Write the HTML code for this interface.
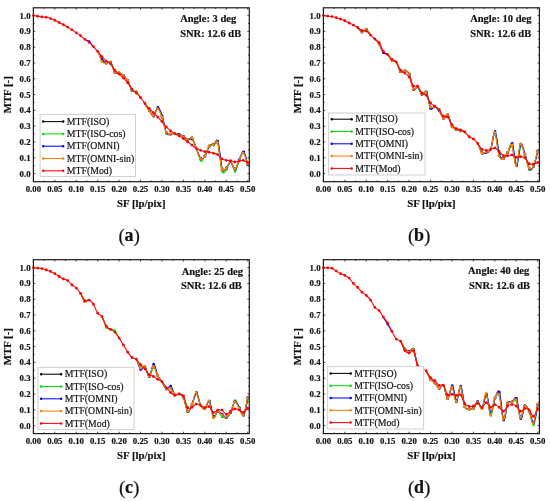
<!DOCTYPE html>
<html><head><meta charset="utf-8"><title>MTF</title>
<style>
html,body{margin:0;padding:0;background:#fff;}
svg{display:block;}
text{font-family:"Liberation Serif","Times New Roman",serif;fill:#111;stroke:#111;stroke-width:0.18px;}
.tk{font-size:8.8px;font-weight:bold;}
.at{font-size:10.8px;font-weight:bold;}
.an{font-size:10.5px;font-weight:bold;}
.lg{font-size:9.8px;}
.cp{font-size:18px;}
.cb{font-weight:bold;}
.pr{font-size:19.2px;letter-spacing:-0.4px;}
</style></head><body>
<svg width="550" height="501" viewBox="0 0 550 501">
<rect width="550" height="501" fill="#fff"/>
<g><rect x="33.4" y="7.8" width="215.9" height="173.9" fill="none" stroke="#1a1a1a" stroke-width="1.2"/>
<path d="M97.69,51.14C99.12,53.35 100.55,58.52 101.98,60.52C103.4,62.51 104.83,62.86 106.26,63.11C107.69,63.37 109.12,60.52 110.55,62.06C111.98,63.59 113.41,70.52 114.83,72.32C116.26,74.12 117.69,72.29 119.12,72.87C120.55,73.44 121.98,74.52 123.41,75.77C124.83,77.02 126.26,77.94 127.69,80.35C129.12,82.76 130.55,88.29 131.98,90.23C133.41,92.17 134.84,90.75 136.26,92C137.69,93.25 139.12,95.76 140.55,97.73M144.84,103.85C146.26,105.92 147.69,108.11 149.12,110.15C150.55,112.19 151.98,116.35 153.41,116.1C154.84,115.85 156.27,108.57 157.69,108.65C159.12,108.73 160.55,112.56 161.98,116.56C163.41,120.55 164.84,129.7 166.27,132.63C167.69,135.57 169.12,134.05 170.55,134.16C171.98,134.26 173.41,133.17 174.84,133.27C176.27,133.38 177.7,134.25 179.12,134.77C180.55,135.3 181.98,135.66 183.41,136.45C184.84,137.24 186.27,139.28 187.7,139.51C189.12,139.73 190.55,136.35 191.98,137.81C193.41,139.27 194.84,144.74 196.27,148.28C197.7,151.81 199.13,157.75 200.55,159.01C201.98,160.27 203.41,157.99 204.84,155.84C206.27,153.68 207.7,148.03 209.13,146.09C210.55,144.15 211.98,144.79 213.41,144.21C214.84,143.63 216.27,138.33 217.7,142.61C219.13,146.88 220.56,165.55 221.98,169.86C223.41,174.18 224.84,169.85 226.27,168.49C227.7,167.13 229.13,161.64 230.56,161.71C231.98,161.77 233.41,169.08 234.84,168.89C236.27,168.69 237.7,163.28 239.13,160.53C240.56,157.78 241.99,151.78 243.41,152.4C244.84,153.01 246.99,162.24 247.7,164.21" fill="none" stroke="#000000" stroke-width="0.9" stroke-linejoin="round"/>
<path d="M101.98,60.52h0M106.26,63.11h0M110.55,62.06h0M114.83,72.32h0M119.12,72.87h0M123.41,75.77h0M127.69,80.35h0M131.98,90.23h0M136.26,92h0M149.12,110.15h0M153.41,116.1h0M157.69,108.65h0M161.98,116.56h0M166.27,132.63h0M170.55,134.16h0M179.12,134.77h0M183.41,136.45h0M187.7,139.51h0M191.98,137.81h0M200.55,159.01h0M204.84,155.84h0M209.13,146.09h0M213.41,144.21h0M217.7,142.61h0M221.98,169.86h0M226.27,168.49h0M230.56,161.71h0M234.84,168.89h0M243.41,152.4h0M247.7,164.21h0" stroke="#000000" stroke-width="2.6" stroke-linecap="round" fill="none"/>
<path d="M97.7,51.14C99.16,53.5 100.72,59.24 102.16,61.29C103.6,63.35 104.94,63.33 106.35,63.47C107.76,63.6 109.19,60.67 110.62,62.1C112.06,63.54 113.52,70.21 114.95,72.08C116.37,73.95 117.74,72.68 119.17,73.32C120.6,73.96 122.08,74.74 123.52,75.93C124.96,77.12 126.39,78 127.8,80.46C129.22,82.91 130.61,88.76 132.03,90.66C133.45,92.57 134.9,90.72 136.32,91.89C137.74,93.07 139.12,95.77 140.55,97.73M144.87,103.7C146.32,105.78 147.76,108.17 149.21,110.2C150.66,112.22 152.09,116.15 153.56,115.86C155.02,115.57 156.55,108.09 157.99,108.46C159.44,108.83 160.79,114.01 162.21,118.09C163.63,122.17 165.11,130.25 166.53,132.93C167.94,135.62 169.31,134.15 170.7,134.2C172.09,134.26 173.45,133.18 174.86,133.27C176.27,133.36 177.74,134.14 179.18,134.74C180.62,135.34 182.07,136.1 183.51,136.86C184.95,137.62 186.35,138.81 187.81,139.29C189.27,139.76 190.87,138.21 192.28,139.71C193.69,141.21 194.84,144.8 196.27,148.28C197.7,151.76 199.39,159.34 200.85,160.58C202.32,161.83 203.64,158.25 205.06,155.75C206.48,153.26 207.95,147.32 209.39,145.62C210.83,143.91 212.28,145.84 213.71,145.53C215.15,145.21 216.57,139.43 218,143.73C219.43,148.03 220.86,167.05 222.28,171.34C223.71,175.63 225.19,171.14 226.57,169.49C227.95,167.83 229.16,161.11 230.59,161.42C232.02,161.73 233.71,171.44 235.14,171.35C236.57,171.26 237.73,163.94 239.16,160.86C240.59,157.78 242.28,152.21 243.71,152.86C245.15,153.51 247.11,162.78 247.79,164.76" fill="none" stroke="#00dd00" stroke-width="1.2" stroke-linejoin="round"/>
<path d="M102.16,61.29h0M106.35,63.47h0M110.62,62.1h0M114.95,72.08h0M123.52,75.93h0M127.8,80.46h0M132.03,90.66h0M136.32,91.89h0M149.21,110.2h0M153.56,115.86h0M157.99,108.46h0M162.21,118.09h0M166.53,132.93h0M170.7,134.2h0M179.18,134.74h0M183.51,136.86h0M187.81,139.29h0M192.28,139.71h0M200.85,160.58h0M205.06,155.75h0M209.39,145.62h0M213.71,145.53h0M218,143.73h0M222.28,171.34h0M226.57,169.49h0M235.14,171.35h0M243.71,152.86h0M247.79,164.76h0" stroke="#00dd00" stroke-width="2.6" stroke-linecap="round" fill="none"/>
<path d="M84.83,39.29C86.27,40.27 87.72,40.24 89.15,41.5C90.58,42.75 92,45.23 93.43,46.84M97.7,51.14C99.15,53.27 100.69,57.64 102.13,59.62C103.57,61.6 104.92,62.55 106.34,63.01C107.75,63.46 109.18,60.78 110.61,62.36C112.04,63.95 113.5,70.68 114.93,72.53C116.35,74.39 117.74,73.01 119.16,73.48C120.59,73.96 122.06,74.21 123.5,75.39C124.94,76.56 126.37,78.05 127.79,80.55C129.21,83.04 130.6,88.38 132.02,90.35C133.44,92.32 134.89,91.12 136.31,92.35M144.87,104.11C146.31,106.2 147.75,108.29 149.2,110.28C150.64,112.26 152.08,116.53 153.53,116.02C154.99,115.51 156.5,107.28 157.94,107.23C159.38,107.17 160.75,111.38 162.17,115.7C163.6,120.02 165.07,130.08 166.48,133.13C167.9,136.19 169.28,134.01 170.68,134.03C172.07,134.06 173.44,133.21 174.86,133.27C176.27,133.33 177.73,133.88 179.17,134.4C180.61,134.92 182.05,135.56 183.49,136.41C184.93,137.26 186.33,139.09 187.79,139.48C189.25,139.87 190.82,137.29 192.23,138.75C193.65,140.22 194.84,145.01 196.27,148.28C197.7,151.54 199.35,157.02 200.8,158.33C202.26,159.65 203.6,158.13 205.02,156.16C206.44,154.19 207.9,148.49 209.34,146.51C210.78,144.53 212.23,145.14 213.66,144.29C215.1,143.44 216.52,137.32 217.95,141.42C219.38,145.51 220.81,164.47 222.23,168.85C223.66,173.23 225.13,168.82 226.52,167.67C227.91,166.51 229.16,161.63 230.59,161.92C232.02,162.2 233.66,169.74 235.09,169.41C236.52,169.07 237.72,162.86 239.15,159.92C240.58,156.98 242.23,150.93 243.66,151.76C245.1,152.59 247.09,162.71 247.78,164.9" fill="none" stroke="#0000ff" stroke-width="1.2" stroke-linejoin="round"/>
<path d="M89.15,41.5h0M102.13,59.62h0M106.34,63.01h0M110.61,62.36h0M114.93,72.53h0M123.5,75.39h0M127.79,80.55h0M132.02,90.35h0M149.2,110.28h0M153.53,116.02h0M157.94,107.23h0M162.17,115.7h0M166.48,133.13h0M170.68,134.03h0M179.17,134.4h0M183.49,136.41h0M187.79,139.48h0M192.23,138.75h0M200.8,158.33h0M205.02,156.16h0M209.34,146.51h0M213.66,144.29h0M217.95,141.42h0M222.23,168.85h0M226.52,167.67h0M230.59,161.92h0M235.09,169.41h0M239.15,159.92h0M243.66,151.76h0M247.78,164.9h0" stroke="#0000ff" stroke-width="2.6" stroke-linecap="round" fill="none"/>
<path d="M97.68,51.14C99.1,53.52 100.46,59.47 101.88,61.48C103.3,63.5 104.78,63.06 106.22,63.21C107.66,63.36 109.08,60.87 110.51,62.41C111.94,63.96 113.35,70.78 114.78,72.49C116.21,74.2 117.67,72.14 119.09,72.66C120.52,73.19 121.93,74.34 123.35,75.63C124.77,76.92 126.2,77.96 127.64,80.38C129.07,82.81 130.52,88.27 131.95,90.19C133.39,92.11 134.8,90.63 136.24,91.89C137.67,93.15 139.12,95.7 140.55,97.73M144.82,104.08C146.24,106.17 147.66,108.31 149.08,110.24C150.5,112.18 151.92,115.92 153.33,115.68C154.74,115.44 156.12,108.61 157.54,108.79C158.97,108.98 160.43,112.86 161.86,116.81C163.3,120.75 164.7,129.63 166.13,132.47C167.57,135.31 169.03,133.7 170.48,133.84C171.93,133.97 173.39,133.07 174.83,133.27C176.26,133.47 177.68,134.49 179.1,135.04C180.52,135.59 181.94,135.83 183.36,136.58C184.78,137.32 186.23,139.34 187.64,139.52C189.05,139.71 190.39,136.26 191.83,137.72C193.27,139.17 194.84,144.79 196.27,148.28C197.7,151.77 198.99,157.32 200.4,158.65C201.81,159.97 203.3,158.3 204.73,156.22C206.16,154.14 207.57,148.08 208.99,146.18C210.42,144.28 211.84,145.49 213.26,144.84C214.69,144.18 216.12,138.24 217.55,142.26C218.98,146.29 220.41,164.64 221.83,168.97C223.26,173.31 224.67,169.54 226.12,168.27C227.57,167 229.11,161.16 230.54,161.35C231.97,161.54 233.26,169.58 234.69,169.4C236.12,169.21 237.68,162.97 239.11,160.23C240.54,157.48 241.84,152.29 243.26,152.94C244.69,153.6 246.92,162.29 247.66,164.16" fill="none" stroke="#ff8000" stroke-width="1.2" stroke-linejoin="round"/>
<path d="M101.88,61.48h0M106.22,63.21h0M110.51,62.41h0M114.78,72.49h0M119.09,72.66h0M123.35,75.63h0M127.64,80.38h0M131.95,90.19h0M136.24,91.89h0M149.08,110.24h0M153.33,115.68h0M157.54,108.79h0M161.86,116.81h0M166.13,132.47h0M170.48,133.84h0M179.1,135.04h0M183.36,136.58h0M187.64,139.52h0M191.83,137.72h0M200.4,158.65h0M204.73,156.22h0M208.99,146.18h0M213.26,144.84h0M217.55,142.26h0M221.83,168.97h0M226.12,168.27h0M234.69,169.4h0M243.26,152.94h0M247.66,164.16h0" stroke="#ff8000" stroke-width="2.6" stroke-linecap="round" fill="none"/>
<path d="M33.4,15.6C34.11,15.71 36.26,16.02 37.69,16.23C39.11,16.44 40.54,16.68 41.97,16.86C43.4,17.05 44.83,17.05 46.26,17.34C47.69,17.63 49.12,18.1 50.54,18.6C51.97,19.1 53.4,19.68 54.83,20.34C56.26,21 57.69,21.81 59.12,22.55C60.54,23.29 61.97,24 63.4,24.76C64.83,25.52 66.26,26.29 67.69,27.13C69.12,27.97 70.55,28.87 71.97,29.82C73.4,30.76 74.83,31.84 76.26,32.82C77.69,33.79 79.12,34.58 80.55,35.66C81.97,36.74 83.4,38.16 84.83,39.29C86.26,40.42 87.69,41.24 89.12,42.45C90.55,43.66 91.98,45.06 93.4,46.56C94.83,48.06 96.26,49.77 97.69,51.45C99.12,53.14 100.55,55.06 101.98,56.67C103.4,58.27 104.83,59.9 106.26,61.09C107.69,62.27 109.12,62.27 110.55,63.77C111.98,65.28 113.41,68.38 114.83,70.09C116.26,71.8 117.69,72.73 119.12,74.04C120.55,75.36 121.98,76.54 123.41,77.99C124.83,79.44 126.26,80.89 127.69,82.73C129.12,84.57 130.55,87.34 131.98,89.05C133.41,90.76 134.84,91.55 136.26,93C137.69,94.44 139.12,96.02 140.55,97.73C141.98,99.45 143.41,101.47 144.84,103.26C146.26,105.05 147.69,106.9 149.12,108.47C150.55,110.05 151.98,111.32 153.41,112.74C154.84,114.16 156.27,115.53 157.69,117C159.12,118.48 160.55,119.93 161.98,121.58C163.41,123.24 164.84,125.4 166.27,126.95C167.69,128.51 169.12,129.77 170.55,130.9C171.98,132.04 173.41,132.9 174.84,133.75C176.27,134.59 177.7,135.17 179.12,135.96C180.55,136.75 181.98,137.48 183.41,138.49C184.84,139.49 186.27,140.85 187.7,141.96C189.12,143.07 190.55,144.07 191.98,145.12C193.41,146.17 194.84,147.41 196.27,148.28C197.7,149.15 199.13,149.78 200.55,150.33C201.98,150.88 203.41,151.28 204.84,151.59C206.27,151.91 207.7,151.94 209.13,152.23C210.55,152.52 211.98,152.94 213.41,153.33C214.84,153.73 216.27,153.67 217.7,154.6C219.13,155.52 220.56,157.91 221.98,158.86C223.41,159.81 224.84,159.97 226.27,160.28C227.7,160.6 229.13,160.47 230.56,160.76C231.98,161.05 233.41,161.97 234.84,162.02C236.27,162.07 237.7,161.34 239.13,161.07C240.56,160.81 241.99,160.2 243.41,160.44C244.84,160.68 246.99,162.15 247.7,162.49" fill="none" stroke="#ff0000" stroke-width="1.05" stroke-linejoin="round"/>
<path d="M33.4,15.6h0M37.69,16.23h0M41.97,16.86h0M46.26,17.34h0M50.54,18.6h0M54.83,20.34h0M59.12,22.55h0M63.4,24.76h0M67.69,27.13h0M71.97,29.82h0M76.26,32.82h0M80.55,35.66h0M84.83,39.29h0M89.12,42.45h0M93.4,46.56h0M97.69,51.45h0M101.98,56.67h0M106.26,61.09h0M110.55,63.77h0M114.83,70.09h0M119.12,74.04h0M123.41,77.99h0M127.69,82.73h0M131.98,89.05h0M136.26,93h0M140.55,97.73h0M144.84,103.26h0M149.12,108.47h0M153.41,112.74h0M157.69,117h0M161.98,121.58h0M166.27,126.95h0M170.55,130.9h0M174.84,133.75h0M179.12,135.96h0M183.41,138.49h0M187.7,141.96h0M191.98,145.12h0M196.27,148.28h0M200.55,150.33h0M204.84,151.59h0M209.13,152.23h0M213.41,153.33h0M217.7,154.6h0M221.98,158.86h0M226.27,160.28h0M230.56,160.76h0M234.84,162.02h0M239.13,161.07h0M243.41,160.44h0M247.7,162.49h0" stroke="#ff0000" stroke-width="2.8" stroke-linecap="round" fill="none"/>
<path d="M33.4,181.7v-1.9M33.4,7.8v1.9M44.12,181.7v-1.2M44.12,7.8v1.2M54.83,181.7v-1.9M54.83,7.8v1.9M65.55,181.7v-1.2M65.55,7.8v1.2M76.26,181.7v-1.9M76.26,7.8v1.9M86.97,181.7v-1.2M86.97,7.8v1.2M97.69,181.7v-1.9M97.69,7.8v1.9M108.41,181.7v-1.2M108.41,7.8v1.2M119.12,181.7v-1.9M119.12,7.8v1.9M129.84,181.7v-1.2M129.84,7.8v1.2M140.55,181.7v-1.9M140.55,7.8v1.9M151.27,181.7v-1.2M151.27,7.8v1.2M161.98,181.7v-1.9M161.98,7.8v1.9M172.7,181.7v-1.2M172.7,7.8v1.2M183.41,181.7v-1.9M183.41,7.8v1.9M194.13,181.7v-1.2M194.13,7.8v1.2M204.84,181.7v-1.9M204.84,7.8v1.9M215.56,181.7v-1.2M215.56,7.8v1.2M226.27,181.7v-1.9M226.27,7.8v1.9M236.99,181.7v-1.2M236.99,7.8v1.2M247.7,181.7v-1.9M247.7,7.8v1.9M33.4,173.55h1.9M249.3,173.55h-1.9M33.4,165.65h1.2M249.3,165.65h-1.2M33.4,157.76h1.9M249.3,157.76h-1.9M33.4,149.86h1.2M249.3,149.86h-1.2M33.4,141.96h1.9M249.3,141.96h-1.9M33.4,134.06h1.2M249.3,134.06h-1.2M33.4,126.17h1.9M249.3,126.17h-1.9M33.4,118.27h1.2M249.3,118.27h-1.2M33.4,110.37h1.9M249.3,110.37h-1.9M33.4,102.47h1.2M249.3,102.47h-1.2M33.4,94.58h1.9M249.3,94.58h-1.9M33.4,86.68h1.2M249.3,86.68h-1.2M33.4,78.78h1.9M249.3,78.78h-1.9M33.4,70.88h1.2M249.3,70.88h-1.2M33.4,62.99h1.9M249.3,62.99h-1.9M33.4,55.09h1.2M249.3,55.09h-1.2M33.4,47.19h1.9M249.3,47.19h-1.9M33.4,39.29h1.2M249.3,39.29h-1.2M33.4,31.4h1.9M249.3,31.4h-1.9M33.4,23.5h1.2M249.3,23.5h-1.2M33.4,15.6h1.9M249.3,15.6h-1.9" stroke="#1a1a1a" stroke-width="0.8" fill="none"/>
<text class="tk" x="33.4" y="191.9" text-anchor="middle">0.00</text>
<text class="tk" x="54.83" y="191.9" text-anchor="middle">0.05</text>
<text class="tk" x="76.26" y="191.9" text-anchor="middle">0.10</text>
<text class="tk" x="97.69" y="191.9" text-anchor="middle">0.15</text>
<text class="tk" x="119.12" y="191.9" text-anchor="middle">0.20</text>
<text class="tk" x="140.55" y="191.9" text-anchor="middle">0.25</text>
<text class="tk" x="161.98" y="191.9" text-anchor="middle">0.30</text>
<text class="tk" x="183.41" y="191.9" text-anchor="middle">0.35</text>
<text class="tk" x="204.84" y="191.9" text-anchor="middle">0.40</text>
<text class="tk" x="226.27" y="191.9" text-anchor="middle">0.45</text>
<text class="tk" x="247.7" y="191.9" text-anchor="middle">0.50</text>
<text class="tk" x="30.6" y="176.55" text-anchor="end">0.0</text>
<text class="tk" x="30.6" y="160.76" text-anchor="end">0.1</text>
<text class="tk" x="30.6" y="144.96" text-anchor="end">0.2</text>
<text class="tk" x="30.6" y="129.17" text-anchor="end">0.3</text>
<text class="tk" x="30.6" y="113.37" text-anchor="end">0.4</text>
<text class="tk" x="30.6" y="97.58" text-anchor="end">0.5</text>
<text class="tk" x="30.6" y="81.78" text-anchor="end">0.6</text>
<text class="tk" x="30.6" y="65.99" text-anchor="end">0.7</text>
<text class="tk" x="30.6" y="50.19" text-anchor="end">0.8</text>
<text class="tk" x="30.6" y="34.4" text-anchor="end">0.9</text>
<text class="tk" x="30.6" y="18.6" text-anchor="end">1.0</text>
<text class="at" x="141.35" y="207.4" text-anchor="middle">SF [lp/pix]</text>
<text class="at" transform="translate(11.1,94.75) rotate(-90)" text-anchor="middle">MTF [-]</text>
<text class="an" x="180.2" y="22">Angle: 3 deg</text>
<text class="an" x="180.2" y="36.9">SNR: 12.6 dB</text>
<rect x="40.1" y="114.4" width="95.4" height="62.2" fill="#fff" stroke="#d0d0d0" stroke-width="1"/>
<path d="M43.2,121.6h20" stroke="#000000" stroke-width="1.05"/>
<path d="M43.2,121.6h0M63.2,121.6h0" stroke="#000000" stroke-width="2.5" stroke-linecap="round"/>
<text class="lg" x="66.8" y="124.8">MTF(ISO)</text>
<path d="M43.2,133.9h20" stroke="#00dd00" stroke-width="1.05"/>
<path d="M43.2,133.9h0M63.2,133.9h0" stroke="#00dd00" stroke-width="2.5" stroke-linecap="round"/>
<text class="lg" x="66.8" y="137.1">MTF(ISO-cos)</text>
<path d="M43.2,146.2h20" stroke="#0000ff" stroke-width="1.05"/>
<path d="M43.2,146.2h0M63.2,146.2h0" stroke="#0000ff" stroke-width="2.5" stroke-linecap="round"/>
<text class="lg" x="66.8" y="149.4">MTF(OMNI)</text>
<path d="M43.2,158.5h20" stroke="#ff8000" stroke-width="1.05"/>
<path d="M43.2,158.5h0M63.2,158.5h0" stroke="#ff8000" stroke-width="2.5" stroke-linecap="round"/>
<text class="lg" x="66.8" y="161.7">MTF(OMNI-sin)</text>
<path d="M43.2,170.8h20" stroke="#ff0000" stroke-width="1.05"/>
<path d="M43.2,170.8h0M63.2,170.8h0" stroke="#ff0000" stroke-width="2.5" stroke-linecap="round"/>
<text class="lg" x="66.8" y="174">MTF(Mod)</text>
<text class="cp" x="129" y="240.9" text-anchor="middle"><tspan class="pr" dy="1.1">(</tspan><tspan class="cb" dy="-1.1">a</tspan><tspan class="pr" dy="1.1">)</tspan></text></g>
<g><rect x="323.4" y="7.8" width="216" height="173.9" fill="none" stroke="#1a1a1a" stroke-width="1.2"/>
<path d="M357.69,27.45C359.12,28.56 360.55,31.39 361.97,31.73C363.4,32.07 364.83,28.92 366.26,29.47C367.69,30.02 369.12,33.44 370.55,35.03M374.83,38.98C376.26,40.39 377.69,41.31 379.12,43.53C380.55,45.74 381.98,50.41 383.4,52.26M387.69,54.61C389.12,56.01 390.55,59.38 391.98,60.61C393.4,61.85 394.83,60.2 396.26,62.04C397.69,63.87 399.12,70.14 400.55,71.63C401.98,73.13 403.41,70.62 404.83,71.02C406.26,71.42 407.69,71.04 409.12,74.04C410.55,77.03 411.98,86.85 413.41,88.99C414.83,91.13 416.26,85.96 417.69,86.86C419.12,87.77 420.55,93.56 421.98,94.44C423.41,95.32 424.84,89.89 426.26,92.13C427.69,94.38 429.12,105.45 430.55,107.89C431.98,110.32 433.41,106.32 434.84,106.74M439.12,110.39C440.55,112.3 441.98,117.47 443.41,118.18C444.84,118.9 446.27,113.25 447.69,114.68C449.12,116.11 450.55,124.26 451.98,126.74C453.41,129.23 454.84,128.96 456.27,129.59C457.69,130.22 459.12,130.12 460.55,130.52M477.7,143.38C479.12,145.74 480.55,151.65 481.98,153.12C483.41,154.6 484.84,152.76 486.27,152.22C487.7,151.68 489.13,153.04 490.55,149.86C491.98,146.67 493.41,132.18 494.84,133.1C496.27,134.01 497.7,151.08 499.13,155.35C500.55,159.62 501.98,159.26 503.41,158.74C504.84,158.22 506.27,154.34 507.7,152.21C509.13,150.07 510.56,143.66 511.98,145.92C513.41,148.18 514.84,166 516.27,165.77C517.7,165.54 519.13,146.44 520.56,144.53C521.98,142.62 523.41,150.38 524.84,154.31C526.27,158.23 527.7,166.07 529.13,168.06C530.56,170.06 531.99,169.16 533.41,166.28C534.84,163.4 536.99,153.37 537.7,150.79" fill="none" stroke="#000000" stroke-width="0.9" stroke-linejoin="round"/>
<path d="M361.97,31.73h0M366.26,29.47h0M379.12,43.53h0M391.98,60.61h0M400.55,71.63h0M404.83,71.02h0M409.12,74.04h0M413.41,88.99h0M421.98,94.44h0M426.26,92.13h0M430.55,107.89h0M443.41,118.18h0M447.69,114.68h0M451.98,126.74h0M456.27,129.59h0M481.98,153.12h0M486.27,152.22h0M494.84,133.1h0M499.13,155.35h0M503.41,158.74h0M507.7,152.21h0M511.98,145.92h0M516.27,165.77h0M520.56,144.53h0M524.84,154.31h0M529.13,168.06h0M533.41,166.28h0M537.7,150.79h0" stroke="#000000" stroke-width="2.6" stroke-linecap="round" fill="none"/>
<path d="M357.69,27.45C359.13,28.55 360.59,31.4 362.03,31.71C363.47,32.02 364.92,28.77 366.33,29.32C367.75,29.87 369.13,33.42 370.55,35.03M374.83,38.98C376.27,40.43 377.74,41.51 379.17,43.76C380.61,46.01 382.02,50.68 383.44,52.49C384.86,54.3 386.26,53.35 387.69,54.61M396.26,62.04C397.69,63.88 399.18,69.71 400.62,71.12C402.07,72.54 403.5,70.06 404.94,70.51C406.38,70.95 407.83,70.69 409.26,73.81C410.7,76.94 412.14,87 413.55,89.25C414.96,91.5 416.32,86.42 417.74,87.29C419.15,88.17 420.58,93.62 422.03,94.49C423.48,95.36 424.97,90.43 426.42,92.52C427.88,94.62 429.35,104.69 430.76,107.06C432.17,109.43 433.46,106.14 434.86,106.74C436.26,107.33 437.72,108.78 439.17,110.64C440.61,112.5 442.07,117.22 443.51,117.88C444.96,118.54 446.39,113.17 447.82,114.6C449.25,116.03 450.67,123.98 452.09,126.45C453.5,128.92 454.91,128.63 456.33,129.41C457.74,130.2 459.17,130.71 460.59,131.14C462.01,131.57 463.41,131 464.84,132.01M477.7,143.38C479.15,145.8 480.72,152.12 482.16,153.5C483.6,154.87 484.95,152.22 486.35,151.62C487.75,151.01 489.11,152.88 490.58,149.86C492.04,146.84 493.68,132.76 495.14,133.51C496.6,134.25 497.91,150.15 499.31,154.34C500.71,158.53 502.12,158.96 503.55,158.66C504.97,158.36 506.42,154.69 507.88,152.54C509.33,150.39 510.84,143.63 512.28,145.74C513.73,147.86 515.14,165.21 516.57,165.25C518,165.28 519.45,147.7 520.86,145.94C522.26,144.19 523.59,150.8 525.01,154.74C526.42,158.68 527.93,167.75 529.35,169.59C530.77,171.43 532.08,168.9 533.52,165.77C534.96,162.65 537.25,153.33 538,150.84" fill="none" stroke="#00dd00" stroke-width="1.2" stroke-linejoin="round"/>
<path d="M362.03,31.71h0M366.33,29.32h0M379.17,43.76h0M383.44,52.49h0M400.62,71.12h0M404.94,70.51h0M409.26,73.81h0M413.55,89.25h0M417.74,87.29h0M422.03,94.49h0M426.42,92.52h0M430.76,107.06h0M439.17,110.64h0M443.51,117.88h0M447.82,114.6h0M452.09,126.45h0M456.33,129.41h0M460.59,131.14h0M482.16,153.5h0M486.35,151.62h0M495.14,133.51h0M499.31,154.34h0M503.55,158.66h0M507.88,152.54h0M512.28,145.74h0M516.57,165.25h0M520.86,145.94h0M525.01,154.74h0M529.35,169.59h0M533.52,165.77h0M538,150.84h0" stroke="#00dd00" stroke-width="2.6" stroke-linecap="round" fill="none"/>
<path d="M357.69,27.45C359.12,28.62 360.58,31.74 362.02,32.13C363.46,32.52 364.9,29.3 366.32,29.78C367.74,30.26 369.13,33.5 370.55,35.03M374.83,38.98C376.27,40.5 377.73,41.86 379.16,44.16C380.6,46.45 382.01,50.99 383.44,52.73C384.86,54.47 386.26,53.35 387.69,54.61C389.12,55.87 390.6,59.05 392.03,60.29C393.45,61.52 394.83,60.08 396.26,62.04C397.69,63.99 399.17,70.57 400.61,72.03C402.05,73.49 403.48,70.47 404.92,70.82C406.36,71.16 407.8,71 409.24,74.1C410.67,77.19 412.11,87.28 413.52,89.39C414.94,91.49 416.31,85.86 417.73,86.74C419.15,87.62 420.58,93.81 422.02,94.67C423.47,95.53 424.94,89.59 426.4,91.89C427.85,94.19 429.32,105.97 430.72,108.45C432.13,110.92 433.45,106.38 434.85,106.74C436.26,107.1 437.72,108.64 439.16,110.62C440.6,112.59 442.06,117.9 443.5,118.58C444.94,119.27 446.37,113.42 447.8,114.73C449.23,116.04 450.65,123.98 452.07,126.43C453.49,128.89 454.9,128.73 456.32,129.46C457.74,130.19 459.16,130.38 460.58,130.8C462,131.23 463.41,130.94 464.84,132.01M477.7,143.38C479.15,145.68 480.69,151.25 482.13,152.75C483.57,154.25 484.93,152.87 486.34,152.39C487.74,151.91 489.11,153.35 490.57,149.86C492.03,146.36 493.64,130.71 495.09,131.42C496.54,132.14 497.88,149.65 499.28,154.15C500.69,158.64 502.1,158.66 503.52,158.39C504.95,158.12 506.4,155.04 507.85,152.51C509.3,149.98 510.79,140.99 512.23,143.21C513.68,145.43 515.09,165.69 516.52,165.85C517.95,166.01 519.4,146.13 520.81,144.16C522.22,142.18 523.56,149.86 524.98,153.98C526.4,158.1 527.9,166.81 529.32,168.89C530.74,170.98 532.06,169.45 533.5,166.51C534.94,163.57 537.21,153.81 537.95,151.27" fill="none" stroke="#0000ff" stroke-width="1.2" stroke-linejoin="round"/>
<path d="M362.02,32.13h0M366.32,29.78h0M379.16,44.16h0M383.44,52.73h0M392.03,60.29h0M400.61,72.03h0M404.92,70.82h0M409.24,74.1h0M413.52,89.39h0M422.02,94.67h0M426.4,91.89h0M430.72,108.45h0M439.16,110.62h0M443.5,118.58h0M447.8,114.73h0M452.07,126.43h0M456.32,129.46h0M460.58,130.8h0M482.13,152.75h0M486.34,152.39h0M495.09,131.42h0M499.28,154.15h0M503.52,158.39h0M507.85,152.51h0M512.23,143.21h0M516.52,165.85h0M520.81,144.16h0M524.98,153.98h0M529.32,168.89h0M533.5,166.51h0M537.95,151.27h0" stroke="#0000ff" stroke-width="2.6" stroke-linecap="round" fill="none"/>
<path d="M357.69,27.45C359.11,28.59 360.53,31.6 361.95,31.94C363.37,32.27 364.79,28.94 366.22,29.45C367.66,29.97 369.11,33.44 370.55,35.03M374.83,38.98C376.26,40.45 377.67,41.66 379.09,43.86C380.52,46.06 381.95,50.4 383.39,52.19M387.69,54.61C389.12,56.03 390.52,59.45 391.95,60.69C393.37,61.92 394.83,60.2 396.26,62.04C397.69,63.87 399.09,70.27 400.51,71.7C401.93,73.13 403.36,70.24 404.78,70.63C406.2,71.02 407.62,70.99 409.05,74.05C410.47,77.11 411.9,86.88 413.33,89.01C414.77,91.13 416.23,85.89 417.67,86.79C419.11,87.7 420.53,93.53 421.95,94.43C423.37,95.34 424.77,90.16 426.19,92.24C427.6,94.32 429.01,104.48 430.44,106.9C431.88,109.32 433.38,106.16 434.82,106.74M439.1,110.35C440.52,112.3 441.93,117.69 443.36,118.41C444.78,119.12 446.2,113.25 447.63,114.65C449.06,116.05 450.49,124.34 451.93,126.82C453.36,129.31 454.8,128.9 456.24,129.55C457.67,130.21 459.1,130.35 460.53,130.76C461.97,131.16 463.41,130.93 464.84,132.01M477.7,143.38C479.11,145.71 480.47,151.51 481.89,152.93C483.31,154.34 484.78,152.37 486.23,151.86C487.67,151.35 489.13,153.11 490.54,149.86C491.95,146.6 493.28,131.35 494.69,132.32C496.1,133.29 497.59,151.26 499.03,155.67C500.47,160.08 501.92,159.32 503.34,158.76C504.77,158.21 506.19,154.64 507.61,152.32C509.02,150.01 510.42,142.6 511.83,144.86C513.25,147.13 514.69,166.02 516.12,165.91C517.55,165.79 518.97,146.08 520.41,144.16C521.85,142.25 523.32,150.41 524.76,154.41C526.19,158.42 527.58,166.2 529.02,168.17C530.45,170.14 531.94,169.05 533.36,166.23C534.78,163.42 536.85,153.78 537.55,151.29" fill="none" stroke="#ff8000" stroke-width="1.2" stroke-linejoin="round"/>
<path d="M361.95,31.94h0M366.22,29.45h0M379.09,43.86h0M391.95,60.69h0M400.51,71.7h0M404.78,70.63h0M409.05,74.05h0M413.33,89.01h0M421.95,94.43h0M426.19,92.24h0M430.44,106.9h0M443.36,118.41h0M447.63,114.65h0M451.93,126.82h0M456.24,129.55h0M460.53,130.76h0M481.89,152.93h0M486.23,151.86h0M494.69,132.32h0M499.03,155.67h0M503.34,158.76h0M507.61,152.32h0M511.83,144.86h0M516.12,165.91h0M520.41,144.16h0M524.76,154.41h0M529.02,168.17h0M533.36,166.23h0M537.55,151.29h0" stroke="#ff8000" stroke-width="2.6" stroke-linecap="round" fill="none"/>
<path d="M323.4,15.6C324.11,15.68 326.26,15.92 327.69,16.07C329.11,16.23 330.54,16.28 331.97,16.55C333.4,16.81 334.83,17.23 336.26,17.65C337.69,18.07 339.12,18.57 340.54,19.07C341.97,19.58 343.4,20 344.83,20.65C346.26,21.31 347.69,22.29 349.12,23.02C350.54,23.76 351.97,24.34 353.4,25.08C354.83,25.81 356.26,26.52 357.69,27.45C359.12,28.37 360.55,30 361.97,30.61C363.4,31.21 364.83,30.34 366.26,31.08C367.69,31.82 369.12,33.71 370.55,35.03C371.97,36.34 373.4,37.71 374.83,38.98C376.26,40.24 377.69,40.53 379.12,42.61C380.55,44.69 381.98,49.45 383.4,51.45C384.83,53.46 386.26,53.3 387.69,54.61C389.12,55.93 390.55,58.11 391.98,59.35C393.4,60.59 394.83,60.25 396.26,62.04C397.69,63.83 399.12,68.25 400.55,70.09C401.98,71.94 403.41,71.94 404.83,73.09C406.26,74.25 407.69,74.88 409.12,77.04C410.55,79.2 411.98,84.55 413.41,86.05C414.83,87.55 416.26,84.86 417.69,86.05C419.12,87.23 420.55,91.6 421.98,93.15C423.41,94.71 424.84,93.73 426.26,95.36C427.69,97 429.12,101.13 430.55,102.95C431.98,104.76 433.41,105.16 434.84,106.26C436.26,107.37 437.69,107.95 439.12,109.58C440.55,111.21 441.98,114.79 443.41,116.06C444.84,117.32 446.27,115.71 447.69,117.16C449.12,118.61 450.55,122.85 451.98,124.74C453.41,126.64 454.84,127.69 456.27,128.53C457.69,129.38 459.12,129.22 460.55,129.8C461.98,130.38 463.41,130.85 464.84,132.01C466.27,133.17 467.7,135.59 469.12,136.75C470.55,137.91 471.98,137.85 473.41,138.96C474.84,140.06 476.27,141.64 477.7,143.38C479.12,145.12 480.55,148.23 481.98,149.38C483.41,150.54 484.84,150.33 486.27,150.33C487.7,150.33 489.13,149.78 490.55,149.38C491.98,148.99 493.41,147.62 494.84,147.96C496.27,148.3 497.7,150.15 499.13,151.44C500.55,152.73 501.98,154.96 503.41,155.7C504.84,156.44 506.27,155.99 507.7,155.86C509.13,155.73 510.56,154.67 511.98,154.91C513.41,155.15 514.84,156.99 516.27,157.28C517.7,157.57 519.13,156.57 520.56,156.65C521.98,156.73 523.41,156.57 524.84,157.76C526.27,158.94 527.7,162.7 529.13,163.76C530.56,164.81 531.99,164.28 533.41,164.07C534.84,163.86 536.99,162.76 537.7,162.49" fill="none" stroke="#ff0000" stroke-width="1.05" stroke-linejoin="round"/>
<path d="M323.4,15.6h0M327.69,16.07h0M331.97,16.55h0M336.26,17.65h0M340.54,19.07h0M344.83,20.65h0M349.12,23.02h0M353.4,25.08h0M357.69,27.45h0M361.97,30.61h0M366.26,31.08h0M370.55,35.03h0M374.83,38.98h0M379.12,42.61h0M383.4,51.45h0M387.69,54.61h0M391.98,59.35h0M396.26,62.04h0M400.55,70.09h0M404.83,73.09h0M409.12,77.04h0M413.41,86.05h0M417.69,86.05h0M421.98,93.15h0M426.26,95.36h0M430.55,102.95h0M434.84,106.26h0M439.12,109.58h0M443.41,116.06h0M447.69,117.16h0M451.98,124.74h0M456.27,128.53h0M460.55,129.8h0M464.84,132.01h0M469.12,136.75h0M473.41,138.96h0M477.7,143.38h0M481.98,149.38h0M486.27,150.33h0M490.55,149.38h0M494.84,147.96h0M499.13,151.44h0M503.41,155.7h0M507.7,155.86h0M511.98,154.91h0M516.27,157.28h0M520.56,156.65h0M524.84,157.76h0M529.13,163.76h0M533.41,164.07h0M537.7,162.49h0" stroke="#ff0000" stroke-width="2.8" stroke-linecap="round" fill="none"/>
<path d="M323.4,181.7v-1.9M323.4,7.8v1.9M334.11,181.7v-1.2M334.11,7.8v1.2M344.83,181.7v-1.9M344.83,7.8v1.9M355.54,181.7v-1.2M355.54,7.8v1.2M366.26,181.7v-1.9M366.26,7.8v1.9M376.97,181.7v-1.2M376.97,7.8v1.2M387.69,181.7v-1.9M387.69,7.8v1.9M398.4,181.7v-1.2M398.4,7.8v1.2M409.12,181.7v-1.9M409.12,7.8v1.9M419.83,181.7v-1.2M419.83,7.8v1.2M430.55,181.7v-1.9M430.55,7.8v1.9M441.26,181.7v-1.2M441.26,7.8v1.2M451.98,181.7v-1.9M451.98,7.8v1.9M462.69,181.7v-1.2M462.69,7.8v1.2M473.41,181.7v-1.9M473.41,7.8v1.9M484.12,181.7v-1.2M484.12,7.8v1.2M494.84,181.7v-1.9M494.84,7.8v1.9M505.56,181.7v-1.2M505.56,7.8v1.2M516.27,181.7v-1.9M516.27,7.8v1.9M526.99,181.7v-1.2M526.99,7.8v1.2M537.7,181.7v-1.9M537.7,7.8v1.9M323.4,173.55h1.9M539.4,173.55h-1.9M323.4,165.65h1.2M539.4,165.65h-1.2M323.4,157.76h1.9M539.4,157.76h-1.9M323.4,149.86h1.2M539.4,149.86h-1.2M323.4,141.96h1.9M539.4,141.96h-1.9M323.4,134.06h1.2M539.4,134.06h-1.2M323.4,126.17h1.9M539.4,126.17h-1.9M323.4,118.27h1.2M539.4,118.27h-1.2M323.4,110.37h1.9M539.4,110.37h-1.9M323.4,102.47h1.2M539.4,102.47h-1.2M323.4,94.58h1.9M539.4,94.58h-1.9M323.4,86.68h1.2M539.4,86.68h-1.2M323.4,78.78h1.9M539.4,78.78h-1.9M323.4,70.88h1.2M539.4,70.88h-1.2M323.4,62.99h1.9M539.4,62.99h-1.9M323.4,55.09h1.2M539.4,55.09h-1.2M323.4,47.19h1.9M539.4,47.19h-1.9M323.4,39.29h1.2M539.4,39.29h-1.2M323.4,31.4h1.9M539.4,31.4h-1.9M323.4,23.5h1.2M539.4,23.5h-1.2M323.4,15.6h1.9M539.4,15.6h-1.9" stroke="#1a1a1a" stroke-width="0.8" fill="none"/>
<text class="tk" x="323.4" y="191.9" text-anchor="middle">0.00</text>
<text class="tk" x="344.83" y="191.9" text-anchor="middle">0.05</text>
<text class="tk" x="366.26" y="191.9" text-anchor="middle">0.10</text>
<text class="tk" x="387.69" y="191.9" text-anchor="middle">0.15</text>
<text class="tk" x="409.12" y="191.9" text-anchor="middle">0.20</text>
<text class="tk" x="430.55" y="191.9" text-anchor="middle">0.25</text>
<text class="tk" x="451.98" y="191.9" text-anchor="middle">0.30</text>
<text class="tk" x="473.41" y="191.9" text-anchor="middle">0.35</text>
<text class="tk" x="494.84" y="191.9" text-anchor="middle">0.40</text>
<text class="tk" x="516.27" y="191.9" text-anchor="middle">0.45</text>
<text class="tk" x="537.7" y="191.9" text-anchor="middle">0.50</text>
<text class="tk" x="320.6" y="176.55" text-anchor="end">0.0</text>
<text class="tk" x="320.6" y="160.76" text-anchor="end">0.1</text>
<text class="tk" x="320.6" y="144.96" text-anchor="end">0.2</text>
<text class="tk" x="320.6" y="129.17" text-anchor="end">0.3</text>
<text class="tk" x="320.6" y="113.37" text-anchor="end">0.4</text>
<text class="tk" x="320.6" y="97.58" text-anchor="end">0.5</text>
<text class="tk" x="320.6" y="81.78" text-anchor="end">0.6</text>
<text class="tk" x="320.6" y="65.99" text-anchor="end">0.7</text>
<text class="tk" x="320.6" y="50.19" text-anchor="end">0.8</text>
<text class="tk" x="320.6" y="34.4" text-anchor="end">0.9</text>
<text class="tk" x="320.6" y="18.6" text-anchor="end">1.0</text>
<text class="at" x="431.4" y="207.4" text-anchor="middle">SF [lp/pix]</text>
<text class="at" transform="translate(301.1,94.75) rotate(-90)" text-anchor="middle">MTF [-]</text>
<text class="an" x="470.2" y="22">Angle: 10 deg</text>
<text class="an" x="470.2" y="36.9">SNR: 12.6 dB</text>
<rect x="328.6" y="113" width="96.4" height="62" fill="#fff" stroke="#d0d0d0" stroke-width="1"/>
<path d="M331.7,119.2h20" stroke="#000000" stroke-width="1.05"/>
<path d="M331.7,119.2h0M351.7,119.2h0" stroke="#000000" stroke-width="2.5" stroke-linecap="round"/>
<text class="lg" x="355.3" y="122.4">MTF(ISO)</text>
<path d="M331.7,131.5h20" stroke="#00dd00" stroke-width="1.05"/>
<path d="M331.7,131.5h0M351.7,131.5h0" stroke="#00dd00" stroke-width="2.5" stroke-linecap="round"/>
<text class="lg" x="355.3" y="134.7">MTF(ISO-cos)</text>
<path d="M331.7,143.8h20" stroke="#0000ff" stroke-width="1.05"/>
<path d="M331.7,143.8h0M351.7,143.8h0" stroke="#0000ff" stroke-width="2.5" stroke-linecap="round"/>
<text class="lg" x="355.3" y="147">MTF(OMNI)</text>
<path d="M331.7,156.1h20" stroke="#ff8000" stroke-width="1.05"/>
<path d="M331.7,156.1h0M351.7,156.1h0" stroke="#ff8000" stroke-width="2.5" stroke-linecap="round"/>
<text class="lg" x="355.3" y="159.3">MTF(OMNI-sin)</text>
<path d="M331.7,168.4h20" stroke="#ff0000" stroke-width="1.05"/>
<path d="M331.7,168.4h0M351.7,168.4h0" stroke="#ff0000" stroke-width="2.5" stroke-linecap="round"/>
<text class="lg" x="355.3" y="171.6">MTF(Mod)</text>
<text class="cp" x="419" y="240.9" text-anchor="middle"><tspan class="pr" dy="1.1">(</tspan><tspan class="cb" dy="-1.1">b</tspan><tspan class="pr" dy="1.1">)</tspan></text></g>
<g><rect x="33.4" y="259.7" width="215.9" height="173.9" fill="none" stroke="#1a1a1a" stroke-width="1.2"/>
<path d="M80.55,293.4C81.97,295.66 83.4,300.57 84.83,301.62C86.26,302.67 87.69,299.37 89.12,299.71M136.26,359.26C137.69,361.13 139.12,367.97 140.55,369.19C141.98,370.41 143.41,365.36 144.84,366.59C146.26,367.81 147.69,376.6 149.12,376.53C150.55,376.47 151.98,366.32 153.41,366.18C154.84,366.04 156.27,373.12 157.69,375.71C159.12,378.29 160.55,379.52 161.98,381.69C163.41,383.86 164.84,387.76 166.27,388.71C167.69,389.67 169.12,386.42 170.55,387.41C171.98,388.39 173.41,393.52 174.84,394.62M179.12,394.01C180.55,394.42 181.98,394.2 183.41,397.1C184.84,399.99 186.27,410.21 187.7,411.38C189.12,412.56 190.55,407.13 191.98,404.15C193.41,401.16 194.84,393.28 196.27,393.49C197.7,393.7 199.13,402.85 200.55,405.38C201.98,407.91 203.41,409.37 204.84,408.68C206.27,407.98 207.7,399.92 209.13,401.2C210.55,402.48 211.98,414.65 213.41,416.35C214.84,418.05 216.27,411.7 217.7,411.41C219.13,411.13 220.56,413.64 221.98,414.62C223.41,415.6 224.84,417.65 226.27,417.3C227.7,416.95 229.13,415.2 230.56,412.53C231.98,409.87 233.41,402.08 234.84,401.32C236.27,400.56 237.7,405.68 239.13,407.96C240.56,410.25 241.99,416.76 243.41,415.05C244.84,413.35 246.99,400.63 247.7,397.75" fill="none" stroke="#000000" stroke-width="0.9" stroke-linejoin="round"/>
<path d="M84.83,301.62h0M140.55,369.19h0M144.84,366.59h0M149.12,376.53h0M153.41,366.18h0M157.69,375.71h0M166.27,388.71h0M170.55,387.41h0M183.41,397.1h0M187.7,411.38h0M191.98,404.15h0M196.27,393.49h0M204.84,408.68h0M209.13,401.2h0M213.41,416.35h0M217.7,411.41h0M221.98,414.62h0M226.27,417.3h0M230.56,412.53h0M234.84,401.32h0M239.13,407.96h0M243.41,415.05h0M247.7,397.75h0" stroke="#000000" stroke-width="2.6" stroke-linecap="round" fill="none"/>
<path d="M80.55,293.4C81.98,295.66 83.45,300.55 84.88,301.6C86.31,302.65 87.71,299.37 89.13,299.71M101.99,316.93C103.43,319.3 104.87,325.25 106.3,327.33C107.73,329.41 109.12,328.84 110.55,329.41C111.98,329.98 113.44,329.32 114.87,330.77C116.3,332.21 117.7,335.72 119.12,338.1M136.26,359.26C137.72,360.9 139.3,366.56 140.75,367.82C142.19,369.08 143.54,365.34 144.95,366.8C146.36,368.25 147.75,376.41 149.21,376.56C150.67,376.71 152.27,367.77 153.71,367.68C155.15,367.6 156.48,373.72 157.86,376.05C159.24,378.39 160.57,379.59 161.98,381.69C163.39,383.79 164.86,387.46 166.33,388.66C167.79,389.86 169.36,387.93 170.78,388.89C172.21,389.85 173.49,393.57 174.88,394.42C176.27,395.28 177.69,393.47 179.12,394.01C180.56,394.55 182.01,394.74 183.47,397.67C184.93,400.6 186.42,410.57 187.86,411.59C189.3,412.61 190.68,406.69 192.13,403.77C193.58,400.84 195.16,393.77 196.57,394.04C197.97,394.31 199.17,402.9 200.55,405.38C201.94,407.87 203.42,409.73 204.89,408.95C206.37,408.17 207.96,399.3 209.41,400.7C210.86,402.1 212.22,415.56 213.61,417.34C215,419.12 216.32,411.43 217.75,411.35C219.18,411.28 220.77,415.97 222.21,416.91C223.65,417.85 225,417.8 226.41,416.98C227.81,416.16 229.16,414.69 230.62,411.97C232.07,409.26 233.7,401.41 235.14,400.67C236.58,399.94 237.84,405.18 239.24,407.57C240.64,409.96 242.07,416.4 243.53,415.02C244.99,413.64 247.25,401.92 248,399.3" fill="none" stroke="#00dd00" stroke-width="1.2" stroke-linejoin="round"/>
<path d="M84.88,301.6h0M106.3,327.33h0M114.87,330.77h0M140.75,367.82h0M144.95,366.8h0M149.21,376.56h0M153.71,367.68h0M157.86,376.05h0M166.33,388.66h0M170.78,388.89h0M174.88,394.42h0M183.47,397.67h0M187.86,411.59h0M192.13,403.77h0M196.57,394.04h0M204.89,408.95h0M209.41,400.7h0M213.61,417.34h0M217.75,411.35h0M222.21,416.91h0M226.41,416.98h0M235.14,400.67h0M239.24,407.57h0M243.53,415.02h0M248,399.3h0" stroke="#00dd00" stroke-width="2.6" stroke-linecap="round" fill="none"/>
<path d="M136.26,359.26C137.72,361.17 139.27,368.24 140.71,369.45C142.16,370.66 143.52,365.35 144.93,366.52C146.34,367.69 147.74,376.89 149.2,376.47C150.65,376.04 152.22,364.07 153.66,363.96C155.1,363.86 156.44,372.89 157.83,375.85C159.22,378.8 160.57,379.44 161.98,381.69C163.39,383.94 164.86,388.59 166.32,389.32C167.78,390.05 169.32,385.17 170.75,386.07C172.17,386.97 173.47,393.4 174.87,394.72M179.12,394.01C180.56,394.41 182.01,394.23 183.46,397.15C184.91,400.07 186.39,410.36 187.83,411.53C189.27,412.71 190.66,407.38 192.11,404.2C193.55,401.01 195.11,392.22 196.52,392.42C197.93,392.62 199.16,402.69 200.55,405.38M204.88,408.56C206.35,407.89 207.91,400.04 209.36,401.36C210.81,402.68 212.18,414.77 213.58,416.47C214.98,418.17 216.31,411.98 217.74,411.58C219.17,411.19 220.73,413.07 222.17,414.1C223.61,415.12 224.98,417.97 226.38,417.74C227.79,417.51 229.15,415.43 230.61,412.74C232.06,410.05 233.66,402.46 235.09,401.6C236.53,400.75 237.82,405.31 239.22,407.6C240.62,409.89 242.05,417.04 243.51,415.35C244.96,413.67 247.21,400.48 247.95,397.51" fill="none" stroke="#0000ff" stroke-width="1.2" stroke-linejoin="round"/>
<path d="M140.71,369.45h0M144.93,366.52h0M149.2,376.47h0M153.66,363.96h0M157.83,375.85h0M166.32,389.32h0M170.75,386.07h0M183.46,397.15h0M187.83,411.53h0M192.11,404.2h0M196.52,392.42h0M209.36,401.36h0M213.58,416.47h0M217.74,411.58h0M222.17,414.1h0M226.38,417.74h0M230.61,412.74h0M235.09,401.6h0M239.22,407.6h0M243.51,415.35h0M247.95,397.51h0" stroke="#0000ff" stroke-width="2.6" stroke-linecap="round" fill="none"/>
<path d="M80.55,293.4C81.97,295.69 83.38,300.72 84.81,301.77C86.24,302.82 87.68,299.4 89.11,299.71M101.97,316.93C103.39,319.24 104.81,324.92 106.24,327C107.67,329.08 109.12,328.69 110.55,329.41M136.26,359.26C137.68,360.96 139.03,366.99 140.45,368.18C141.87,369.36 143.34,365.04 144.78,366.38C146.22,367.72 147.66,376.22 149.08,376.23C150.49,376.23 151.84,366.52 153.26,366.42C154.68,366.32 156.16,373.07 157.61,375.61C159.07,378.16 160.54,379.48 161.98,381.69C163.42,383.9 164.83,387.82 166.24,388.87C167.65,389.93 169.01,387.09 170.44,388.02C171.87,388.96 173.37,393.51 174.82,394.5C176.27,395.5 177.7,393.6 179.12,394.01C180.55,394.42 181.97,394.03 183.38,396.94C184.79,399.86 186.19,410.28 187.61,411.5C189.03,412.72 190.49,407.39 191.91,404.25C193.32,401.1 194.68,392.45 196.12,392.63C197.56,392.82 199.1,402.66 200.55,405.38C202,408.1 203.41,409.67 204.81,408.94C206.22,408.22 207.57,399.59 208.98,401.05C210.4,402.51 211.86,415.96 213.31,417.7C214.76,419.44 216.24,411.95 217.67,411.48C219.1,411.01 220.45,413.95 221.87,414.86C223.29,415.77 224.76,417.4 226.2,416.96C227.64,416.52 229.11,414.75 230.53,412.21C231.94,409.68 233.27,402.44 234.69,401.74C236.12,401.04 237.63,405.81 239.07,408.01C240.52,410.22 241.94,416.66 243.36,414.96C244.77,413.26 246.85,400.68 247.55,397.82" fill="none" stroke="#ff8000" stroke-width="1.2" stroke-linejoin="round"/>
<path d="M84.81,301.77h0M106.24,327h0M140.45,368.18h0M144.78,366.38h0M149.08,376.23h0M153.26,366.42h0M157.61,375.61h0M166.24,388.87h0M170.44,388.02h0M174.82,394.5h0M183.38,396.94h0M187.61,411.5h0M191.91,404.25h0M196.12,392.63h0M204.81,408.94h0M208.98,401.05h0M213.31,417.7h0M217.67,411.48h0M221.87,414.86h0M226.2,416.96h0M230.53,412.21h0M234.69,401.74h0M239.07,408.01h0M243.36,414.96h0M247.55,397.82h0" stroke="#ff8000" stroke-width="2.6" stroke-linecap="round" fill="none"/>
<path d="M33.4,267.65C34.11,267.73 36.26,267.97 37.69,268.12C39.11,268.28 40.54,268.28 41.97,268.6C43.4,268.91 44.83,269.55 46.26,270.02C47.69,270.49 49.12,270.84 50.54,271.44C51.97,272.05 53.4,272.81 54.83,273.65C56.26,274.49 57.69,275.6 59.12,276.5C60.54,277.39 61.97,278.34 63.4,279.02C64.83,279.71 66.26,279.6 67.69,280.6C69.12,281.6 70.55,283.79 71.97,285.02C73.4,286.26 74.83,286.63 76.26,288.03C77.69,289.42 79.12,291.29 80.55,293.4C81.97,295.5 83.4,299.56 84.83,300.66C86.26,301.77 87.69,299.45 89.12,300.03C90.55,300.61 91.98,301.95 93.4,304.14C94.83,306.32 96.26,311.06 97.69,313.14C99.12,315.22 100.55,314.46 101.98,316.61C103.4,318.77 104.83,323.96 106.26,326.09C107.69,328.22 109.12,328.41 110.55,329.41C111.98,330.41 113.41,330.65 114.83,332.09C116.26,333.54 117.69,335.94 119.12,338.1C120.55,340.25 121.98,342.7 123.41,345.05C124.83,347.39 126.26,350.07 127.69,352.15C129.12,354.23 130.55,356.34 131.98,357.52C133.41,358.71 134.84,358.08 136.26,359.26C137.69,360.45 139.12,363.05 140.55,364.63C141.98,366.21 143.41,367.08 144.84,368.74C146.26,370.4 147.69,373.29 149.12,374.58C150.55,375.87 151.98,375.69 153.41,376.48C154.84,377.27 156.27,378.45 157.69,379.32C159.12,380.19 160.55,380.32 161.98,381.69C163.41,383.06 164.84,385.74 166.27,387.53C167.69,389.32 169.12,391.11 170.55,392.43C171.98,393.75 173.41,395.17 174.84,395.43C176.27,395.69 177.7,393.93 179.12,394.01C180.55,394.09 181.98,393.62 183.41,395.91C184.84,398.2 186.27,405.86 187.7,407.75C189.12,409.65 190.55,407.88 191.98,407.28C193.41,406.67 194.84,404.43 196.27,404.12C197.7,403.8 199.13,404.78 200.55,405.38C201.98,405.99 203.41,407.54 204.84,407.75C206.27,407.96 207.7,405.86 209.13,406.65C210.55,407.44 211.98,411.91 213.41,412.49C214.84,413.07 216.27,410.52 217.7,410.12C219.13,409.73 220.56,409.41 221.98,410.12C223.41,410.83 224.84,414.2 226.27,414.39C227.7,414.57 229.13,412.15 230.56,411.23C231.98,410.31 233.41,409.04 234.84,408.86C236.27,408.67 237.7,409.52 239.13,410.12C240.56,410.73 241.99,412.81 243.41,412.49C244.84,412.17 246.99,408.94 247.7,408.23" fill="none" stroke="#ff0000" stroke-width="1.05" stroke-linejoin="round"/>
<path d="M33.4,267.65h0M37.69,268.12h0M41.97,268.6h0M46.26,270.02h0M50.54,271.44h0M54.83,273.65h0M59.12,276.5h0M63.4,279.02h0M67.69,280.6h0M71.97,285.02h0M76.26,288.03h0M80.55,293.4h0M84.83,300.66h0M89.12,300.03h0M93.4,304.14h0M97.69,313.14h0M101.98,316.61h0M106.26,326.09h0M110.55,329.41h0M114.83,332.09h0M119.12,338.1h0M123.41,345.05h0M127.69,352.15h0M131.98,357.52h0M136.26,359.26h0M140.55,364.63h0M144.84,368.74h0M149.12,374.58h0M153.41,376.48h0M157.69,379.32h0M161.98,381.69h0M166.27,387.53h0M170.55,392.43h0M174.84,395.43h0M179.12,394.01h0M183.41,395.91h0M187.7,407.75h0M191.98,407.28h0M196.27,404.12h0M200.55,405.38h0M204.84,407.75h0M209.13,406.65h0M213.41,412.49h0M217.7,410.12h0M221.98,410.12h0M226.27,414.39h0M230.56,411.23h0M234.84,408.86h0M239.13,410.12h0M243.41,412.49h0M247.7,408.23h0" stroke="#ff0000" stroke-width="2.8" stroke-linecap="round" fill="none"/>
<path d="M33.4,433.6v-1.9M33.4,259.7v1.9M44.12,433.6v-1.2M44.12,259.7v1.2M54.83,433.6v-1.9M54.83,259.7v1.9M65.55,433.6v-1.2M65.55,259.7v1.2M76.26,433.6v-1.9M76.26,259.7v1.9M86.97,433.6v-1.2M86.97,259.7v1.2M97.69,433.6v-1.9M97.69,259.7v1.9M108.41,433.6v-1.2M108.41,259.7v1.2M119.12,433.6v-1.9M119.12,259.7v1.9M129.84,433.6v-1.2M129.84,259.7v1.2M140.55,433.6v-1.9M140.55,259.7v1.9M151.27,433.6v-1.2M151.27,259.7v1.2M161.98,433.6v-1.9M161.98,259.7v1.9M172.7,433.6v-1.2M172.7,259.7v1.2M183.41,433.6v-1.9M183.41,259.7v1.9M194.13,433.6v-1.2M194.13,259.7v1.2M204.84,433.6v-1.9M204.84,259.7v1.9M215.56,433.6v-1.2M215.56,259.7v1.2M226.27,433.6v-1.9M226.27,259.7v1.9M236.99,433.6v-1.2M236.99,259.7v1.2M247.7,433.6v-1.9M247.7,259.7v1.9M33.4,425.6h1.9M249.3,425.6h-1.9M33.4,417.7h1.2M249.3,417.7h-1.2M33.4,409.81h1.9M249.3,409.81h-1.9M33.4,401.91h1.2M249.3,401.91h-1.2M33.4,394.01h1.9M249.3,394.01h-1.9M33.4,386.11h1.2M249.3,386.11h-1.2M33.4,378.22h1.9M249.3,378.22h-1.9M33.4,370.32h1.2M249.3,370.32h-1.2M33.4,362.42h1.9M249.3,362.42h-1.9M33.4,354.52h1.2M249.3,354.52h-1.2M33.4,346.62h1.9M249.3,346.62h-1.9M33.4,338.73h1.2M249.3,338.73h-1.2M33.4,330.83h1.9M249.3,330.83h-1.9M33.4,322.93h1.2M249.3,322.93h-1.2M33.4,315.04h1.9M249.3,315.04h-1.9M33.4,307.14h1.2M249.3,307.14h-1.2M33.4,299.24h1.9M249.3,299.24h-1.9M33.4,291.34h1.2M249.3,291.34h-1.2M33.4,283.45h1.9M249.3,283.45h-1.9M33.4,275.55h1.2M249.3,275.55h-1.2M33.4,267.65h1.9M249.3,267.65h-1.9" stroke="#1a1a1a" stroke-width="0.8" fill="none"/>
<text class="tk" x="33.4" y="443.8" text-anchor="middle">0.00</text>
<text class="tk" x="54.83" y="443.8" text-anchor="middle">0.05</text>
<text class="tk" x="76.26" y="443.8" text-anchor="middle">0.10</text>
<text class="tk" x="97.69" y="443.8" text-anchor="middle">0.15</text>
<text class="tk" x="119.12" y="443.8" text-anchor="middle">0.20</text>
<text class="tk" x="140.55" y="443.8" text-anchor="middle">0.25</text>
<text class="tk" x="161.98" y="443.8" text-anchor="middle">0.30</text>
<text class="tk" x="183.41" y="443.8" text-anchor="middle">0.35</text>
<text class="tk" x="204.84" y="443.8" text-anchor="middle">0.40</text>
<text class="tk" x="226.27" y="443.8" text-anchor="middle">0.45</text>
<text class="tk" x="247.7" y="443.8" text-anchor="middle">0.50</text>
<text class="tk" x="30.6" y="428.6" text-anchor="end">0.0</text>
<text class="tk" x="30.6" y="412.81" text-anchor="end">0.1</text>
<text class="tk" x="30.6" y="397.01" text-anchor="end">0.2</text>
<text class="tk" x="30.6" y="381.22" text-anchor="end">0.3</text>
<text class="tk" x="30.6" y="365.42" text-anchor="end">0.4</text>
<text class="tk" x="30.6" y="349.62" text-anchor="end">0.5</text>
<text class="tk" x="30.6" y="333.83" text-anchor="end">0.6</text>
<text class="tk" x="30.6" y="318.04" text-anchor="end">0.7</text>
<text class="tk" x="30.6" y="302.24" text-anchor="end">0.8</text>
<text class="tk" x="30.6" y="286.45" text-anchor="end">0.9</text>
<text class="tk" x="30.6" y="270.65" text-anchor="end">1.0</text>
<text class="at" x="141.35" y="459.3" text-anchor="middle">SF [lp/pix]</text>
<text class="at" transform="translate(11.1,346.65) rotate(-90)" text-anchor="middle">MTF [-]</text>
<text class="an" x="181.7" y="274.6">Angle: 25 deg</text>
<text class="an" x="180.9" y="289.3">SNR: 12.6 dB</text>
<rect x="38" y="367.6" width="96" height="62" fill="#fff" stroke="#d0d0d0" stroke-width="1"/>
<path d="M41.1,374.2h20" stroke="#000000" stroke-width="1.05"/>
<path d="M41.1,374.2h0M61.1,374.2h0" stroke="#000000" stroke-width="2.5" stroke-linecap="round"/>
<text class="lg" x="64.7" y="377.4">MTF(ISO)</text>
<path d="M41.1,386.5h20" stroke="#00dd00" stroke-width="1.05"/>
<path d="M41.1,386.5h0M61.1,386.5h0" stroke="#00dd00" stroke-width="2.5" stroke-linecap="round"/>
<text class="lg" x="64.7" y="389.7">MTF(ISO-cos)</text>
<path d="M41.1,398.8h20" stroke="#0000ff" stroke-width="1.05"/>
<path d="M41.1,398.8h0M61.1,398.8h0" stroke="#0000ff" stroke-width="2.5" stroke-linecap="round"/>
<text class="lg" x="64.7" y="402">MTF(OMNI)</text>
<path d="M41.1,411.1h20" stroke="#ff8000" stroke-width="1.05"/>
<path d="M41.1,411.1h0M61.1,411.1h0" stroke="#ff8000" stroke-width="2.5" stroke-linecap="round"/>
<text class="lg" x="64.7" y="414.3">MTF(OMNI-sin)</text>
<path d="M41.1,423.4h20" stroke="#ff0000" stroke-width="1.05"/>
<path d="M41.1,423.4h0M61.1,423.4h0" stroke="#ff0000" stroke-width="2.5" stroke-linecap="round"/>
<text class="lg" x="64.7" y="426.6">MTF(Mod)</text>
<text class="cp" x="129" y="493.3" text-anchor="middle"><tspan class="pr" dy="1.1">(</tspan><tspan class="cb" dy="-1.1">c</tspan><tspan class="pr" dy="1.1">)</tspan></text></g>
<g><rect x="323.4" y="259.7" width="216" height="173.9" fill="none" stroke="#1a1a1a" stroke-width="1.2"/>
<path d="M400.55,341.25C401.98,342.93 403.41,347.32 404.83,349.07C406.26,350.82 407.69,351.77 409.12,351.76C410.55,351.74 411.98,346.67 413.41,349C414.83,351.33 416.26,362.45 417.69,365.74M426.26,371.58C427.69,373.39 429.12,377.7 430.55,379.62C431.98,381.53 433.41,381.65 434.84,383.07C436.26,384.5 437.69,387.87 439.12,388.16C440.55,388.46 441.98,383.12 443.41,384.85C444.84,386.58 446.27,398.21 447.69,398.55C449.12,398.9 450.55,386.36 451.98,386.92C453.41,387.48 454.84,401.86 456.27,401.9C457.69,401.94 459.12,386.37 460.55,387.18C461.98,387.99 463.41,403.09 464.84,406.77C466.27,410.45 467.7,408.96 469.12,409.26C470.55,409.56 471.98,409.8 473.41,408.57C474.84,407.35 476.27,401.93 477.7,401.92C479.12,401.9 480.55,409.71 481.98,408.49C483.41,407.28 484.84,393.7 486.27,394.62C487.7,395.55 489.13,413.41 490.55,414.04C491.98,414.67 493.41,401.82 494.84,398.41C496.27,394.99 497.7,390.15 499.13,393.54C500.55,396.93 501.98,417.12 503.41,418.73C504.84,420.34 506.27,406 507.7,403.19C509.13,400.39 510.56,402.58 511.98,401.92C513.41,401.26 514.84,396.67 516.27,399.23C517.7,401.79 519.13,416.18 520.56,417.29C521.98,418.4 523.41,406.88 524.84,405.88C526.27,404.89 527.7,408.54 529.13,411.33C530.56,414.13 531.99,423.75 533.41,422.63C534.84,421.51 536.99,407.61 537.7,404.61" fill="none" stroke="#000000" stroke-width="0.9" stroke-linejoin="round"/>
<path d="M404.83,349.07h0M409.12,351.76h0M413.41,349h0M430.55,379.62h0M434.84,383.07h0M439.12,388.16h0M447.69,398.55h0M451.98,386.92h0M456.27,401.9h0M460.55,387.18h0M464.84,406.77h0M469.12,409.26h0M473.41,408.57h0M477.7,401.92h0M481.98,408.49h0M486.27,394.62h0M490.55,414.04h0M494.84,398.41h0M499.13,393.54h0M503.41,418.73h0M507.7,403.19h0M511.98,401.92h0M516.27,399.23h0M520.56,417.29h0M524.84,405.88h0M529.13,411.33h0M533.41,422.63h0M537.7,404.61h0" stroke="#000000" stroke-width="2.6" stroke-linecap="round" fill="none"/>
<path d="M400.55,341.25C401.99,342.93 403.46,347.3 404.9,349.08C406.34,350.86 407.75,351.88 409.18,351.92C410.61,351.95 412.08,347 413.5,349.3C414.91,351.61 416.28,362.5 417.69,365.74M426.29,371.58C427.73,373.38 429.19,377.63 430.63,379.56C432.07,381.49 433.5,381.68 434.94,383.16C436.38,384.64 437.83,388.15 439.25,388.43C440.66,388.71 442,383.24 443.43,384.85C444.87,386.46 446.38,397.77 447.86,398.08C449.33,398.39 450.83,386.28 452.28,386.7C453.73,387.13 455.12,400.56 456.55,400.62C457.98,400.68 459.45,386.08 460.85,387.08C462.26,388.07 463.58,402.95 464.98,406.59C466.38,410.22 467.83,408.51 469.25,408.9C470.68,409.29 472.11,410.12 473.53,408.95C474.95,407.77 476.34,401.93 477.76,401.87C479.17,401.81 480.57,409.66 482.04,408.6C483.51,407.55 485.1,394.41 486.57,395.55C488.04,396.7 489.43,415.01 490.85,415.47C492.28,415.93 493.71,401.6 495.14,398.29C496.57,394.97 498,391.93 499.43,395.59C500.85,399.24 502.31,418.93 503.71,420.2C505.11,421.47 506.43,406.22 507.83,403.21C509.22,400.21 510.65,402.53 512.1,402.18C513.56,401.83 515.11,398.34 516.57,401.09C518.03,403.84 519.46,417.82 520.86,418.69C522.25,419.55 523.57,407.5 524.96,406.31C526.35,405.11 527.74,408.43 529.2,411.52C530.65,414.61 532.27,425.88 533.71,424.83C535.16,423.79 537.19,408.52 537.89,405.25" fill="none" stroke="#00dd00" stroke-width="1.2" stroke-linejoin="round"/>
<path d="M404.9,349.08h0M409.18,351.92h0M413.5,349.3h0M430.63,379.56h0M434.94,383.16h0M439.25,388.43h0M447.86,398.08h0M452.28,386.7h0M456.55,400.62h0M460.85,387.08h0M464.98,406.59h0M469.25,408.9h0M473.53,408.95h0M477.76,401.87h0M482.04,408.6h0M486.57,395.55h0M490.85,415.47h0M495.14,398.29h0M499.43,395.59h0M503.71,420.2h0M507.83,403.21h0M512.1,402.18h0M516.57,401.09h0M520.86,418.69h0M524.96,406.31h0M529.2,411.52h0M533.71,424.83h0M537.89,405.25h0" stroke="#00dd00" stroke-width="2.6" stroke-linecap="round" fill="none"/>
<path d="M383.42,317.56C384.85,319.9 386.29,321.88 387.71,324.19C389.14,326.51 390.55,328.99 391.98,331.46M400.55,341.25C401.99,342.91 403.45,347.3 404.89,348.98C406.33,350.67 407.74,351.29 409.17,351.34C410.6,351.38 412.06,346.87 413.48,349.27C414.9,351.67 416.27,362.49 417.69,365.74M426.29,371.58C427.73,373.33 429.18,377.42 430.62,379.24C432.06,381.05 433.49,380.93 434.92,382.47C436.36,384.02 437.81,388.12 439.23,388.51C440.65,388.91 441.99,383.13 443.43,384.85C444.86,386.57 446.36,398.7 447.83,398.83C449.3,398.96 450.78,385.39 452.23,385.61C453.68,385.84 455.07,400.11 456.5,400.19C457.93,400.26 459.39,384.94 460.8,386.08C462.21,387.22 463.55,403.16 464.96,407.02C466.36,410.89 467.8,409.08 469.23,409.27C470.66,409.45 472.09,409.41 473.51,408.13C474.93,406.86 476.33,401.63 477.75,401.64C479.17,401.65 480.57,409.45 482.03,408.21C483.49,406.96 485.06,393.46 486.52,394.17C487.98,394.87 489.38,411.84 490.8,412.44C492.23,413.04 493.66,401.14 495.09,397.76C496.52,394.37 497.95,388.42 499.38,392.13C500.8,395.84 502.26,418.25 503.66,420.03C505.07,421.81 506.4,405.82 507.8,402.81C509.21,399.79 510.63,402.71 512.08,401.95C513.54,401.19 515.07,395.48 516.52,398.25C517.97,401.02 519.4,417.3 520.81,418.57C522.21,419.84 523.55,407.12 524.94,405.88C526.34,404.65 527.73,408.35 529.18,411.14C530.64,413.92 532.22,423.66 533.66,422.59C535.11,421.51 537.16,407.67 537.86,404.68" fill="none" stroke="#0000ff" stroke-width="1.2" stroke-linejoin="round"/>
<path d="M387.71,324.19h0M404.89,348.98h0M409.17,351.34h0M413.48,349.27h0M430.62,379.24h0M434.92,382.47h0M439.23,388.51h0M447.83,398.83h0M452.23,385.61h0M456.5,400.19h0M460.8,386.08h0M464.96,407.02h0M469.23,409.27h0M473.51,408.13h0M477.75,401.64h0M482.03,408.21h0M486.52,394.17h0M490.8,412.44h0M495.09,397.76h0M499.38,392.13h0M503.66,420.03h0M507.8,402.81h0M512.08,401.95h0M516.52,398.25h0M520.81,418.57h0M524.94,405.88h0M529.18,411.14h0M533.66,422.59h0M537.86,404.68h0" stroke="#0000ff" stroke-width="2.6" stroke-linecap="round" fill="none"/>
<path d="M400.55,341.25C401.97,342.95 403.38,347.46 404.8,349.24C406.22,351.02 407.66,351.93 409.09,351.95C410.52,351.97 411.93,347.04 413.36,349.34C414.79,351.64 416.26,362.5 417.69,365.74M426.25,371.58C427.67,373.35 429.09,377.45 430.51,379.38C431.93,381.31 433.36,381.7 434.78,383.17C436.21,384.63 437.62,387.88 439.06,388.16C440.49,388.44 441.97,383.1 443.4,384.85C444.82,386.6 446.21,398.31 447.61,398.67C449.02,399.03 450.41,386.51 451.83,386.99C453.25,387.48 454.69,401.56 456.12,401.59C457.55,401.61 458.96,386.26 460.4,387.15C461.84,388.04 463.32,403.22 464.77,406.9C466.21,410.58 467.63,408.92 469.06,409.21C470.49,409.49 471.92,409.78 473.35,408.63C474.78,407.48 476.23,402.26 477.67,402.29C479.1,402.32 480.54,410.33 481.95,408.82C483.36,407.3 484.71,392.26 486.12,393.22C487.53,394.19 488.98,413.77 490.4,414.61C491.83,415.45 493.26,401.64 494.69,398.27C496.12,394.9 497.55,390.87 498.98,394.37C500.4,397.88 501.82,417.76 503.26,419.29C504.71,420.82 506.19,406.43 507.63,403.56C509.08,400.7 510.51,402.72 511.92,402.08C513.34,401.45 514.71,397.16 516.12,399.75C517.53,402.33 518.96,416.51 520.41,417.6C521.85,418.69 523.33,407.33 524.78,406.29C526.23,405.24 527.68,408.48 529.09,411.32C530.51,414.16 531.85,424.59 533.26,423.34C534.68,422.1 536.88,407.1 537.61,403.85" fill="none" stroke="#ff8000" stroke-width="1.2" stroke-linejoin="round"/>
<path d="M404.8,349.24h0M409.09,351.95h0M413.36,349.34h0M430.51,379.38h0M434.78,383.17h0M439.06,388.16h0M447.61,398.67h0M451.83,386.99h0M456.12,401.59h0M460.4,387.15h0M464.77,406.9h0M469.06,409.21h0M473.35,408.63h0M477.67,402.29h0M481.95,408.82h0M486.12,393.22h0M490.4,414.61h0M494.69,398.27h0M498.98,394.37h0M503.26,419.29h0M507.63,403.56h0M511.92,402.08h0M516.12,399.75h0M520.41,417.6h0M524.78,406.29h0M529.09,411.32h0M533.26,423.34h0M537.61,403.85h0" stroke="#ff8000" stroke-width="2.6" stroke-linecap="round" fill="none"/>
<path d="M323.4,267.65C324.11,267.68 326.26,267.7 327.69,267.81C329.11,267.91 330.54,267.73 331.97,268.28C333.4,268.83 334.83,270.23 336.26,271.12C337.69,272.02 339.12,272.94 340.54,273.65C341.97,274.36 343.4,274.65 344.83,275.39C346.26,276.13 347.69,276.73 349.12,278.07C350.54,279.42 351.97,281.89 353.4,283.45C354.83,285 356.26,285.95 357.69,287.39C359.12,288.84 360.55,290.79 361.97,292.13C363.4,293.47 364.83,294.13 366.26,295.45C367.69,296.77 369.12,298.03 370.55,300.03C371.97,302.03 373.4,305.69 374.83,307.45C376.26,309.22 377.69,309.01 379.12,310.61C380.55,312.22 381.98,315.01 383.4,317.09C384.83,319.17 386.26,320.69 387.69,323.09C389.12,325.49 390.55,328.8 391.98,331.46C393.4,334.12 394.83,337.41 396.26,339.04C397.69,340.68 399.12,339.33 400.55,341.25C401.98,343.18 403.41,348.6 404.83,350.57C406.26,352.55 407.69,353.02 409.12,353.1C410.55,353.18 411.98,348.94 413.41,351.05C414.83,353.15 416.26,362.84 417.69,365.74C419.12,368.63 420.55,367.55 421.98,368.42C423.41,369.29 424.84,369.4 426.26,370.95C427.69,372.5 429.12,376.11 430.55,377.74C431.98,379.37 433.41,379.48 434.84,380.74C436.26,382.01 437.69,384.56 439.12,385.32C440.55,386.09 441.98,383.72 443.41,385.32C444.84,386.93 446.27,393.46 447.69,394.96C449.12,396.46 450.55,394.25 451.98,394.33C453.41,394.4 454.84,395.33 456.27,395.43C457.69,395.54 459.12,393.59 460.55,394.96C461.98,396.33 463.41,401.72 464.84,403.64C466.27,405.57 467.7,406.09 469.12,406.49C470.55,406.88 471.98,406.54 473.41,406.01C474.84,405.49 476.27,403.12 477.7,403.33C479.12,403.54 480.55,407.38 481.98,407.28C483.41,407.17 484.84,402.7 486.27,402.7C487.7,402.7 489.13,406.96 490.55,407.28C491.98,407.59 493.41,404.59 494.84,404.59C496.27,404.59 497.7,406.17 499.13,407.28C500.55,408.38 501.98,411.44 503.41,411.23C504.84,411.02 506.27,407.12 507.7,406.01C509.13,404.91 510.56,404.59 511.98,404.59C513.41,404.59 514.84,404.91 516.27,406.01C517.7,407.12 519.13,410.81 520.56,411.23C521.98,411.65 523.41,408.78 524.84,408.54C526.27,408.3 527.7,408.49 529.13,409.81C530.56,411.12 531.99,416.65 533.41,416.44C534.84,416.23 536.99,409.86 537.7,408.54" fill="none" stroke="#ff0000" stroke-width="1.05" stroke-linejoin="round"/>
<path d="M323.4,267.65h0M327.69,267.81h0M331.97,268.28h0M336.26,271.12h0M340.54,273.65h0M344.83,275.39h0M349.12,278.07h0M353.4,283.45h0M357.69,287.39h0M361.97,292.13h0M366.26,295.45h0M370.55,300.03h0M374.83,307.45h0M379.12,310.61h0M383.4,317.09h0M387.69,323.09h0M391.98,331.46h0M396.26,339.04h0M400.55,341.25h0M404.83,350.57h0M409.12,353.1h0M413.41,351.05h0M417.69,365.74h0M421.98,368.42h0M426.26,370.95h0M430.55,377.74h0M434.84,380.74h0M439.12,385.32h0M443.41,385.32h0M447.69,394.96h0M451.98,394.33h0M456.27,395.43h0M460.55,394.96h0M464.84,403.64h0M469.12,406.49h0M473.41,406.01h0M477.7,403.33h0M481.98,407.28h0M486.27,402.7h0M490.55,407.28h0M494.84,404.59h0M499.13,407.28h0M503.41,411.23h0M507.7,406.01h0M511.98,404.59h0M516.27,406.01h0M520.56,411.23h0M524.84,408.54h0M529.13,409.81h0M533.41,416.44h0M537.7,408.54h0" stroke="#ff0000" stroke-width="2.8" stroke-linecap="round" fill="none"/>
<path d="M323.4,433.6v-1.9M323.4,259.7v1.9M334.11,433.6v-1.2M334.11,259.7v1.2M344.83,433.6v-1.9M344.83,259.7v1.9M355.54,433.6v-1.2M355.54,259.7v1.2M366.26,433.6v-1.9M366.26,259.7v1.9M376.97,433.6v-1.2M376.97,259.7v1.2M387.69,433.6v-1.9M387.69,259.7v1.9M398.4,433.6v-1.2M398.4,259.7v1.2M409.12,433.6v-1.9M409.12,259.7v1.9M419.83,433.6v-1.2M419.83,259.7v1.2M430.55,433.6v-1.9M430.55,259.7v1.9M441.26,433.6v-1.2M441.26,259.7v1.2M451.98,433.6v-1.9M451.98,259.7v1.9M462.69,433.6v-1.2M462.69,259.7v1.2M473.41,433.6v-1.9M473.41,259.7v1.9M484.12,433.6v-1.2M484.12,259.7v1.2M494.84,433.6v-1.9M494.84,259.7v1.9M505.56,433.6v-1.2M505.56,259.7v1.2M516.27,433.6v-1.9M516.27,259.7v1.9M526.99,433.6v-1.2M526.99,259.7v1.2M537.7,433.6v-1.9M537.7,259.7v1.9M323.4,425.6h1.9M539.4,425.6h-1.9M323.4,417.7h1.2M539.4,417.7h-1.2M323.4,409.81h1.9M539.4,409.81h-1.9M323.4,401.91h1.2M539.4,401.91h-1.2M323.4,394.01h1.9M539.4,394.01h-1.9M323.4,386.11h1.2M539.4,386.11h-1.2M323.4,378.22h1.9M539.4,378.22h-1.9M323.4,370.32h1.2M539.4,370.32h-1.2M323.4,362.42h1.9M539.4,362.42h-1.9M323.4,354.52h1.2M539.4,354.52h-1.2M323.4,346.62h1.9M539.4,346.62h-1.9M323.4,338.73h1.2M539.4,338.73h-1.2M323.4,330.83h1.9M539.4,330.83h-1.9M323.4,322.93h1.2M539.4,322.93h-1.2M323.4,315.04h1.9M539.4,315.04h-1.9M323.4,307.14h1.2M539.4,307.14h-1.2M323.4,299.24h1.9M539.4,299.24h-1.9M323.4,291.34h1.2M539.4,291.34h-1.2M323.4,283.45h1.9M539.4,283.45h-1.9M323.4,275.55h1.2M539.4,275.55h-1.2M323.4,267.65h1.9M539.4,267.65h-1.9" stroke="#1a1a1a" stroke-width="0.8" fill="none"/>
<text class="tk" x="323.4" y="443.8" text-anchor="middle">0.00</text>
<text class="tk" x="344.83" y="443.8" text-anchor="middle">0.05</text>
<text class="tk" x="366.26" y="443.8" text-anchor="middle">0.10</text>
<text class="tk" x="387.69" y="443.8" text-anchor="middle">0.15</text>
<text class="tk" x="409.12" y="443.8" text-anchor="middle">0.20</text>
<text class="tk" x="430.55" y="443.8" text-anchor="middle">0.25</text>
<text class="tk" x="451.98" y="443.8" text-anchor="middle">0.30</text>
<text class="tk" x="473.41" y="443.8" text-anchor="middle">0.35</text>
<text class="tk" x="494.84" y="443.8" text-anchor="middle">0.40</text>
<text class="tk" x="516.27" y="443.8" text-anchor="middle">0.45</text>
<text class="tk" x="537.7" y="443.8" text-anchor="middle">0.50</text>
<text class="tk" x="320.6" y="428.6" text-anchor="end">0.0</text>
<text class="tk" x="320.6" y="412.81" text-anchor="end">0.1</text>
<text class="tk" x="320.6" y="397.01" text-anchor="end">0.2</text>
<text class="tk" x="320.6" y="381.22" text-anchor="end">0.3</text>
<text class="tk" x="320.6" y="365.42" text-anchor="end">0.4</text>
<text class="tk" x="320.6" y="349.62" text-anchor="end">0.5</text>
<text class="tk" x="320.6" y="333.83" text-anchor="end">0.6</text>
<text class="tk" x="320.6" y="318.04" text-anchor="end">0.7</text>
<text class="tk" x="320.6" y="302.24" text-anchor="end">0.8</text>
<text class="tk" x="320.6" y="286.45" text-anchor="end">0.9</text>
<text class="tk" x="320.6" y="270.65" text-anchor="end">1.0</text>
<text class="at" x="431.4" y="459.3" text-anchor="middle">SF [lp/pix]</text>
<text class="at" transform="translate(301.1,346.65) rotate(-90)" text-anchor="middle">MTF [-]</text>
<text class="an" x="468" y="274.3">Angle: 40 deg</text>
<text class="an" x="469" y="289">SNR: 12.6 dB</text>
<rect x="327.6" y="366.6" width="96" height="62.4" fill="#fff" stroke="#d0d0d0" stroke-width="1"/>
<path d="M330.7,373.4h20" stroke="#000000" stroke-width="1.05"/>
<path d="M330.7,373.4h0M350.7,373.4h0" stroke="#000000" stroke-width="2.5" stroke-linecap="round"/>
<text class="lg" x="354.3" y="376.6">MTF(ISO)</text>
<path d="M330.7,385.7h20" stroke="#00dd00" stroke-width="1.05"/>
<path d="M330.7,385.7h0M350.7,385.7h0" stroke="#00dd00" stroke-width="2.5" stroke-linecap="round"/>
<text class="lg" x="354.3" y="388.9">MTF(ISO-cos)</text>
<path d="M330.7,398h20" stroke="#0000ff" stroke-width="1.05"/>
<path d="M330.7,398h0M350.7,398h0" stroke="#0000ff" stroke-width="2.5" stroke-linecap="round"/>
<text class="lg" x="354.3" y="401.2">MTF(OMNI)</text>
<path d="M330.7,410.3h20" stroke="#ff8000" stroke-width="1.05"/>
<path d="M330.7,410.3h0M350.7,410.3h0" stroke="#ff8000" stroke-width="2.5" stroke-linecap="round"/>
<text class="lg" x="354.3" y="413.5">MTF(OMNI-sin)</text>
<path d="M330.7,422.6h20" stroke="#ff0000" stroke-width="1.05"/>
<path d="M330.7,422.6h0M350.7,422.6h0" stroke="#ff0000" stroke-width="2.5" stroke-linecap="round"/>
<text class="lg" x="354.3" y="425.8">MTF(Mod)</text>
<text class="cp" x="419" y="493.3" text-anchor="middle"><tspan class="pr" dy="1.1">(</tspan><tspan class="cb" dy="-1.1">d</tspan><tspan class="pr" dy="1.1">)</tspan></text></g>
</svg>
</body></html>
